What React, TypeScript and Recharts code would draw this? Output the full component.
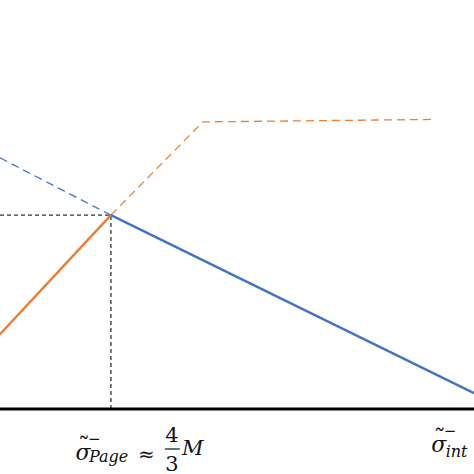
import React from "react";
import { LineChart, Line, XAxis, YAxis, ReferenceLine } from "recharts";

// Crossing point: where the orange rise meets the blue fall
const xPage = 2.34;
const yPage = 4.74;
const xInt = 9.55;

const orangeRise = [
  { x: 0, y: 1.83 },
  { x: xPage, y: yPage },
];
const orangeExt = [
  { x: xPage, y: yPage },
  { x: 4.28, y: 7.02 },
  { x: 9.18, y: 7.08 },
];
const blueExt = [
  { x: 0, y: 6.14 },
  { x: xPage, y: yPage },
];
const blueFall = [
  { x: xPage, y: yPage },
  { x: 10, y: 0.39 },
];

const tickValues = [xPage, xInt];

const ORANGE = "#ED7D31";
const BLUE = "#4472C4";
const FONT = "'DejaVu Serif', serif";

// sigma with tilde above and a superscript minus bar
function SigmaTilde({ cx, base }: { cx: number; base: number }) {
  const t = { fontFamily: FONT, fill: "#111" };
  return (
    <>
      <text {...t} x={cx} y={base} fontSize={22} fontStyle="italic" textAnchor="middle">σ</text>
      <text {...t} x={cx + 1} y={base - 5} fontSize={24} textAnchor="middle">˜</text>
      <text {...t} x={cx + 5} y={base - 16} fontSize={15}>−</text>
    </>
  );
}

function MathTick({ x, y, payload }: { x?: number; y?: number; payload?: { value: number } }) {
  const t = { fontFamily: FONT, fill: "#111" };
  if (payload?.value === xPage) {
    return (
      <g transform={`translate(${x},${y})`}>
        <SigmaTilde cx={-28} base={51} />
        <text {...t} x={-22} y={53} fontSize={16} fontStyle="italic">Page</text>
        <text {...t} x={27} y={52} fontSize={20}>≈</text>
        <text {...t} x={61} y={33} fontSize={21} textAnchor="middle">4</text>
        <line x1={54} x2={69} y1={40} y2={40} stroke="#111" strokeWidth={1.2} />
        <text {...t} x={61} y={62} fontSize={21} textAnchor="middle">3</text>
        <text {...t} x={71} y={46} fontSize={21} fontStyle="italic">M</text>
      </g>
    );
  }
  return (
    <g transform={`translate(${x},${y})`}>
      <SigmaTilde cx={-14} base={43} />
      <text {...t} x={-7} y={48} fontSize={16} fontStyle="italic">int</text>
    </g>
  );
}

export default function App() {
  return (
    <div style={{ position: "absolute", left: 0, top: 0, width: 474, height: 474, background: "#fff" }}>
      <LineChart width={474} height={474} margin={{ top: 0, right: 0, bottom: 0, left: 0 }}>
        <XAxis
          type="number"
          dataKey="x"
          domain={[0, 10]}
          allowDataOverflow
          ticks={tickValues}
          interval={0}
          height={65}
          tickLine={false}
          tickSize={0}
          tickMargin={0}
          axisLine={{ stroke: "#000", strokeWidth: 3 }}
          tick={<MathTick />}
        />
        <YAxis type="number" dataKey="y" domain={[0, 10]} hide />
        <ReferenceLine
          segment={[{ x: 0, y: yPage }, { x: xPage, y: yPage }]}
          stroke="#333"
          strokeWidth={1.3}
          strokeDasharray="4 3"
        />
        <ReferenceLine
          segment={[{ x: xPage, y: 0 }, { x: xPage, y: yPage }]}
          stroke="#333"
          strokeWidth={1.3}
          strokeDasharray="4 3"
        />
        <Line data={blueExt} dataKey="y" stroke={BLUE} strokeWidth={1.3} strokeDasharray="8 5" dot={false} activeDot={false} isAnimationActive={false} />
        <Line data={orangeExt} dataKey="y" stroke={ORANGE} strokeWidth={1.3} strokeDasharray="8 5" dot={false} activeDot={false} isAnimationActive={false} />
        <Line data={orangeRise} dataKey="y" stroke={ORANGE} strokeWidth={2.4} dot={false} activeDot={false} isAnimationActive={false} />
        <Line data={blueFall} dataKey="y" stroke={BLUE} strokeWidth={2.4} dot={false} activeDot={false} isAnimationActive={false} />
      </LineChart>
    </div>
  );
}
